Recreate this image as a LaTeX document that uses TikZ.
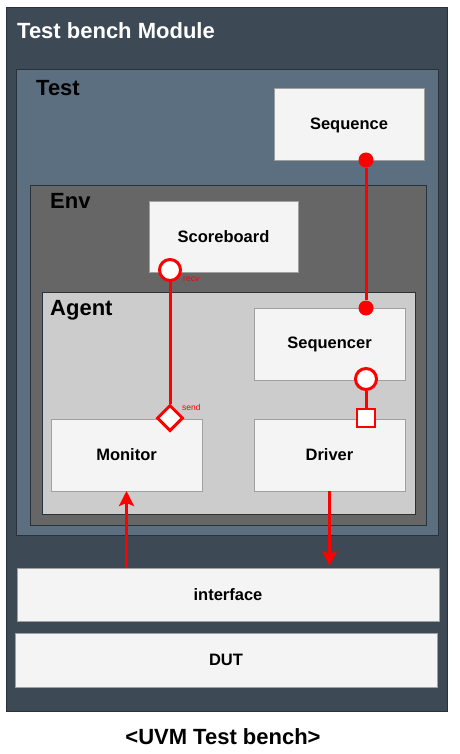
\documentclass[tikz,border=0pt]{standalone}
\usepackage{fontspec}
\setmainfont{Liberation Sans}
\usepackage{tikz}
\usetikzlibrary{arrows.meta,positioning,shapes.geometric,calc}
\definecolor{tbslate}{RGB}{61,74,85}
\definecolor{tbedge}{RGB}{40,50,58}
\definecolor{testblue}{RGB}{91,111,128}
\definecolor{envgray}{RGB}{102,102,102}
\definecolor{agentgray}{RGB}{204,204,204}
\definecolor{boxwhite}{RGB}{244,244,244}
\definecolor{boxedge}{RGB}{160,160,160}
\definecolor{portred}{RGB}{255,0,0}
\tikzset{
    frame/.style   = {draw=tbedge, line width=1pt, anchor=north west,
            inner sep=0pt, outer sep=0pt},
    unit/.style    = {draw=boxedge, line width=1pt, fill=boxwhite,
            anchor=north west, inner sep=0pt, outer sep=0pt,
            font=\fontsize{16.5}{18}\selectfont\bfseries, align=center},
    heading/.style = {anchor=base west, inner sep=0pt,
            font=\fontsize{22}{25}\selectfont\bfseries},
    link/.style    = {draw=portred, line width=3pt},
    flow/.style    = {-{Stealth[length=15pt,width=15pt,inset=3pt]}, draw=portred,
            line width=3pt},
    dotport/.style = {circle, fill=portred, minimum size=15pt, inner sep=0pt},
    ringport/.style= {circle, draw=portred, line width=3pt, fill=white,
            minimum size=21pt, inner sep=0pt},
    sqport/.style  = {rectangle, draw=portred, line width=2.5pt, fill=white,
            minimum size=18pt, inner sep=0pt},
    dmport/.style  = {diamond, draw=portred, line width=3pt, fill=white,
            minimum size=26pt, inner sep=0pt, aspect=1},
    tag/.style     = {text=portred, inner sep=0pt,
            font=\fontsize{8.5}{9}\selectfont},
}
\begin{document}
\begin{tikzpicture}[x=1pt, y=-1pt]
    \useasboundingbox (0,0) rectangle (459,754);

    % containers
    \node[frame, fill=tbslate, minimum width=441pt, minimum height=703pt] (tb) at (6,8) {};
    \node[heading, text=white] (tbname) at (17,39) {Test bench Module};
    \node[frame, fill=testblue, minimum width=422pt, minimum height=465pt] (test) at (16,70) {};
    \node[heading] (testname) at (36,96) {Test};
    \node[frame, fill=envgray, minimum width=396pt, minimum height=340pt] (env) at (30,185) {};
    \node[heading] (envname) at (50,208) {Env};
    \node[frame, fill=agentgray, minimum width=373pt, minimum height=222pt] (agent) at (42,292) {};
    \node[heading] (agentname) at (50,315) {Agent};

    % components
    \node[unit, minimum width=150pt, minimum height=72pt] (seq)  at (274,89)  {Sequence};
    \node[unit, minimum width=149pt, minimum height=71pt] (sb)   at (149,201) {Scoreboard};
    \node[unit, minimum width=151pt, minimum height=72pt] (sqr)  at (254,308) {Sequencer};
    \node[unit, minimum width=151pt, minimum height=72pt] (mon)  at (51,419)  {Monitor};
    \node[unit, minimum width=151pt, minimum height=72pt] (drv)  at (254,419) {Driver};
    \node[unit, minimum width=422pt, minimum height=53pt] (iface) at (17,568) {interface};
    \node[unit, minimum width=422pt, minimum height=54pt] (dut)  at (15,633)  {DUT};

    % ports
    \node[dotport]  (seqout) at (366,160) {};
    \node[dotport]  (sqrin)  at (366,308) {};
    \node[ringport] (recv)   at (170,270) {};
    \node[dmport]   (send)   at (170,418) {};
    \node[ringport] (sqrout) at (366,379) {};
    \node[sqport]   (drvin)  at (366,418) {};
    \node[tag, anchor=west] at (183,279) {recv};
    \node[tag, anchor=west] at (182,407) {send};

    % connections
    \draw[link] (seqout) -- (sqrin);
    \draw[link] (recv.south) -- (send.north);
    \draw[link] (sqrout.south) -- (drvin.north);
    \draw[flow] (iface.north -| mon.south) -- (mon.south);
    \draw[flow] (drv.south) -- ($(drv.south |- iface.north)+(0,-2)$);

    \node[font=\fontsize{22}{25}\selectfont\bfseries] (caption) at (223,737) {<UVM Test bench>};
\end{tikzpicture}
\end{document}
